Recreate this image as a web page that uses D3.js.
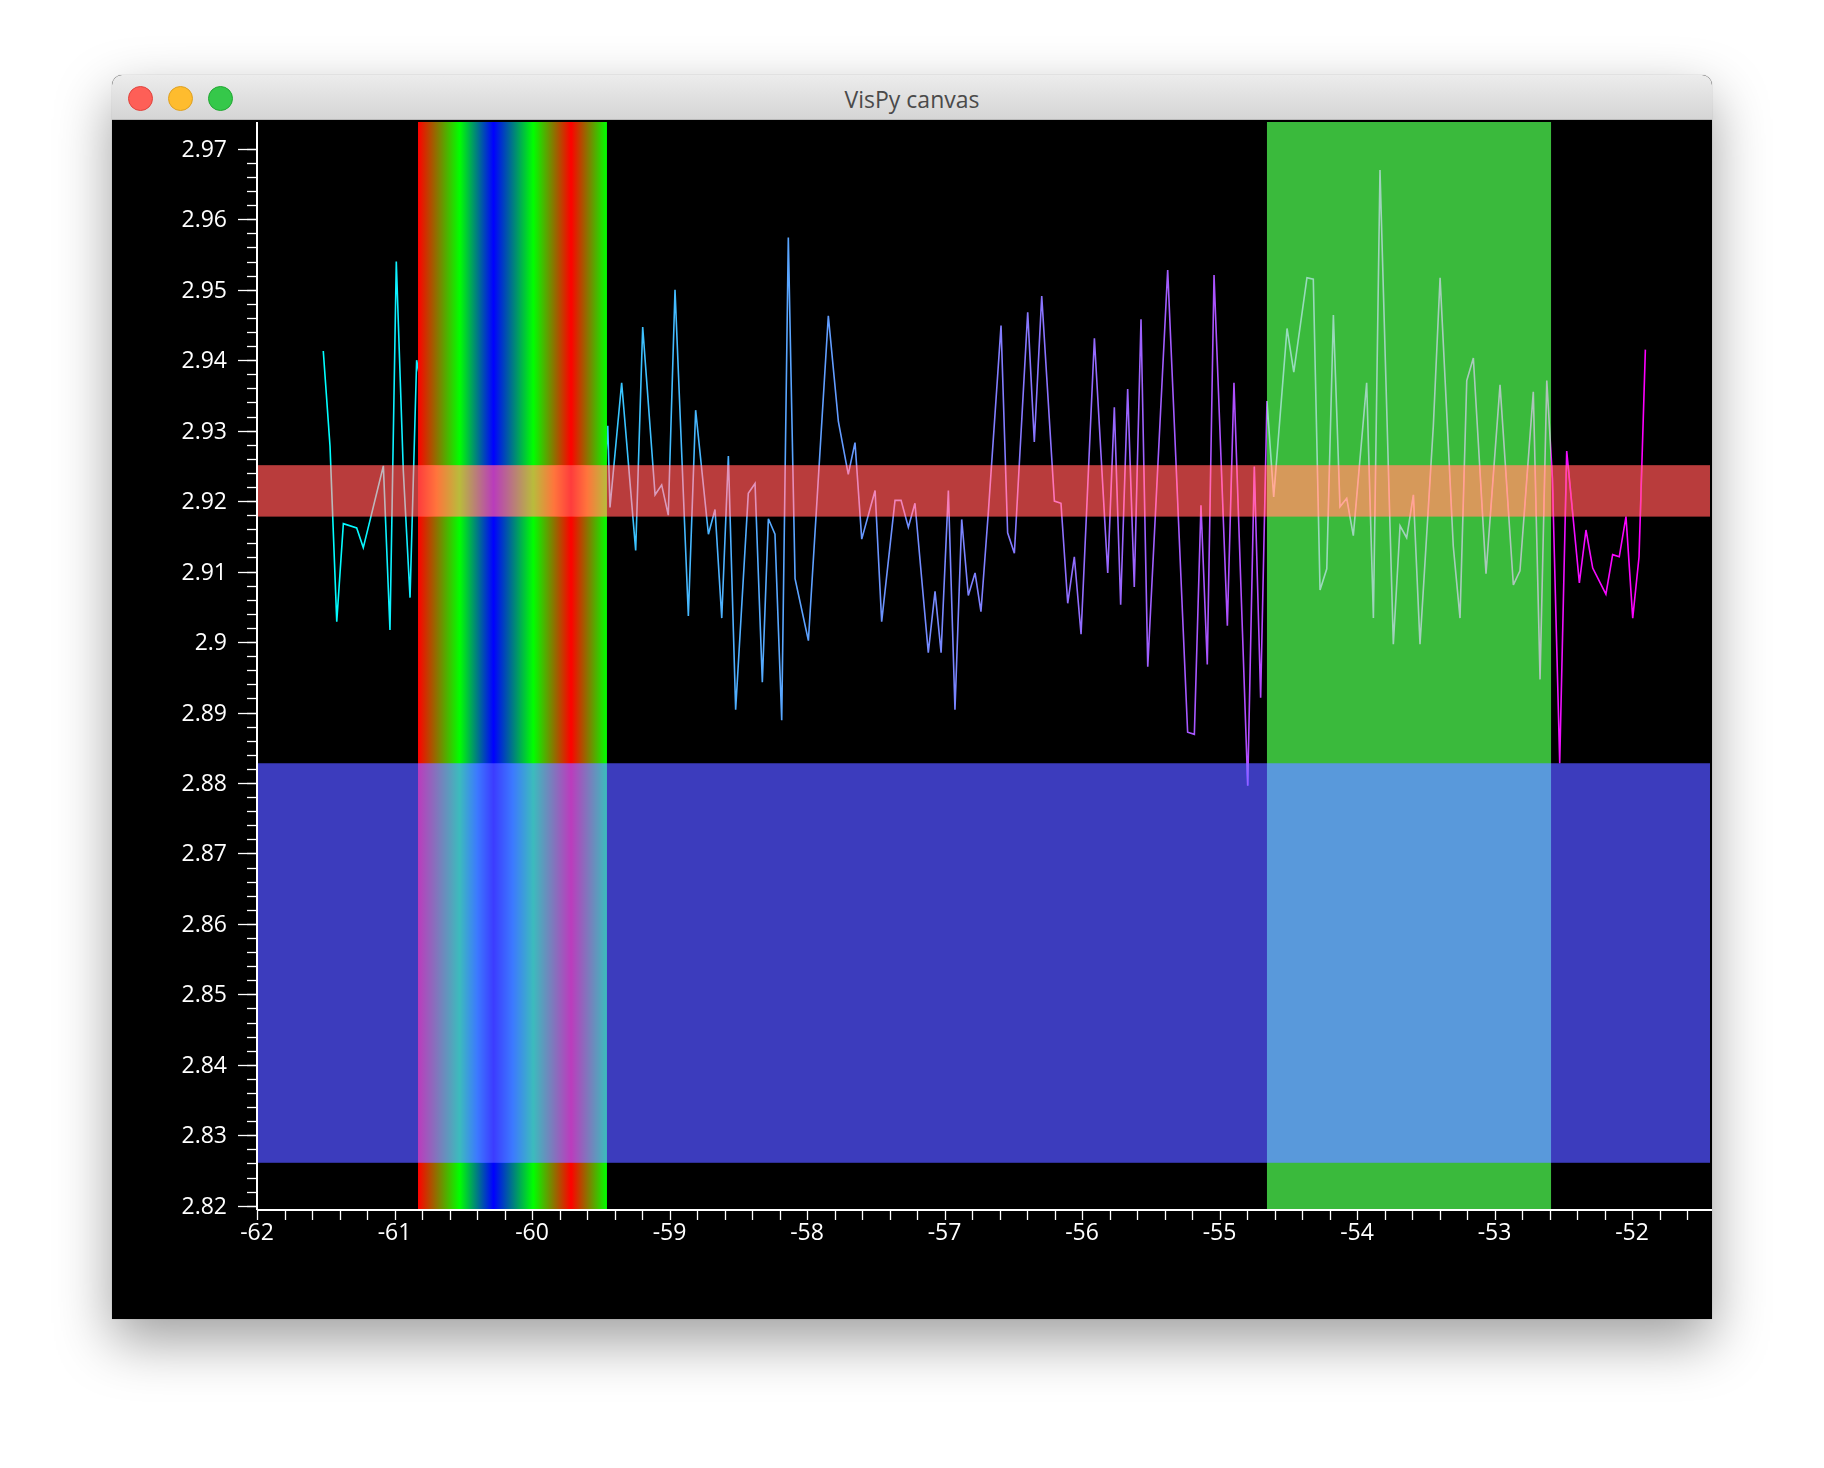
<!DOCTYPE html>
<html>
<head>
<meta charset="utf-8">
<script src="https://cdn.jsdelivr.net/npm/d3@7"></script>
<style>
  body { margin: 0; background: #fff; width: 1824px; height: 1468px; overflow: hidden; }
  #win { position: absolute; left: 112px; top: 75px; width: 1600px; height: 1244px;
         border-radius: 10px 10px 0 0; overflow: hidden;
         box-shadow: 0 22px 55px rgba(0,0,0,0.38), 0 0 1px rgba(0,0,0,0.4); background: #000; }
  #bar { height: 44px; background: linear-gradient(#ececec, #d5d5d5); border-bottom: 1px solid #b8b8b8;
         position: relative; font-family: "Open Sans", "Noto Sans", sans-serif; }
  #bar .t { position: absolute; width: 100%; text-align: center; top: 8px; font-size: 23px; color: #4a4a4a; }
  .dot { position: absolute; top: 11px; width: 23px; height: 23px; border-radius: 50%; }
  svg text { font-family: "Open Sans", "Noto Sans", sans-serif; fill: #fff; }
</style>
</head>
<body>
<div id="win">
  <div id="bar">
    <div class="dot" style="left:16px;background:#fe5f57;border:1px solid #e0443e"></div>
    <div class="dot" style="left:56px;background:#febc2e;border:1px solid #dea123"></div>
    <div class="dot" style="left:96px;background:#35c84a;border:1px solid #22a834"></div>
    <div class="t">VisPy canvas</div>
  </div>
  <div id="chart"></div>
</div>
<script>
// line samples
var lineX = [-61.518,-61.469,-61.420,-61.372,-61.275,-61.227,-61.081,-61.033,-60.987,-60.936,-60.887,-60.839,
  -60.70,-60.50,-60.30,-60.10,-59.90,-59.70,-59.50,
  -59.449,-59.433,-59.348,-59.246,-59.195,-59.105,-59.057,-59.009,-58.960,-58.863,-58.810,-58.717,-58.669,
  -58.620,-58.572,-58.519,-58.427,-58.378,-58.325,-58.281,-58.233,-58.184,-58.136,-58.087,-57.990,-57.845,
  -57.772,-57.700,-57.651,-57.602,-57.505,-57.457,-57.360,-57.316,-57.263,-57.215,-57.118,-57.069,-57.025,
  -56.972,-56.924,-56.875,-56.827,-56.778,-56.735,-56.681,-56.589,-56.541,-56.492,-56.395,-56.347,-56.293,
  -56.201,-56.153,-56.104,-56.056,-56.007,-55.910,-55.813,-55.765,-55.719,-55.668,-55.620,-55.571,-55.522,
  -55.377,-55.232,-55.183,-55.135,-55.089,-55.040,-54.943,-54.895,-54.795,-54.747,-54.701,-54.655,-54.606,
  -54.509,-54.460,-54.364,-54.318,-54.269,-54.220,-54.172,-54.124,-54.075,-54.027,-53.930,-53.881,-53.833,
  -53.736,-53.687,-53.639,-53.590,-53.542,-53.445,-53.396,-53.300,-53.251,-53.202,-53.154,-53.062,-52.960,
  -52.863,-52.815,-52.718,-52.669,-52.620,-52.579,-52.526,-52.475,-52.383,-52.335,-52.286,-52.190,-52.141,
  -52.093,-52.044,-51.995,-51.949,-51.903];
var lineY = [2.9413,2.9278,2.9029,2.9168,2.9162,2.9134,2.9250,2.9017,2.9540,2.9243,2.9063,2.9400,
  2.925,2.910,2.935,2.905,2.920,2.930,2.915,
  2.9307,2.9191,2.9368,2.9130,2.9447,2.9209,2.9223,2.9180,2.9500,2.9037,2.9329,2.9153,2.9188,
  2.9034,2.9264,2.8904,2.9211,2.9225,2.8943,2.9175,2.9153,2.8889,2.9574,2.9090,2.9002,2.9463,
  2.9313,2.9238,2.9283,2.9146,2.9215,2.9029,2.9201,2.9201,2.9163,2.9197,2.8985,2.9072,2.8985,
  2.9215,2.8904,2.9174,2.9066,2.9098,2.9043,2.9185,2.9449,2.9155,2.9126,2.9468,2.9284,2.9491,
  2.9200,2.9197,2.9055,2.9121,2.9011,2.9431,2.9098,2.9333,2.9053,2.9359,2.9078,2.9458,2.8965,
  2.9528,2.8872,2.8869,2.9194,2.8968,2.9521,2.9023,2.9368,2.8796,2.9249,2.8921,2.9342,2.9206,
  2.9445,2.9383,2.9517,2.9515,2.9074,2.9104,2.9464,2.9192,2.9204,2.9151,2.9368,2.9034,2.9670,
  2.8997,2.9165,2.9148,2.9209,2.8997,2.9307,2.9517,2.9136,2.9034,2.9371,2.9403,2.9097,2.9365,
  2.9081,2.9101,2.9355,2.8947,2.9371,2.9232,2.8828,2.9271,2.9084,2.9159,2.9105,2.9068,2.9124,
  2.9121,2.9178,2.9034,2.9121,2.9415];

// regions
var rainbowX = [-60.829, -59.455];
var rainbowStops = [0, 0.22, 0.40, 0.61, 0.81, 1.0];
var rainbowColors = ["#ff0000", "#00ff00", "#0000ff", "#00ff00", "#ff0000", "#00ff00"];
var greenX = [-54.655, -52.589];
var redY = [2.9178, 2.9251];
var blueY = [2.8261, 2.8828];

var xMajor = [-62,-61,-60,-59,-58,-57,-56,-55,-54,-53,-52];
var yMajor = [2.82,2.83,2.84,2.85,2.86,2.87,2.88,2.89,2.90,2.91,2.92,2.93,2.94,2.95,2.96,2.97];
var yLabels = ["2.82","2.83","2.84","2.85","2.86","2.87","2.88","2.89","2.9","2.91","2.92","2.93","2.94","2.95","2.96","2.97"];

var W = 1600, H = 1199;
var L = 145, R = 1598, T = 2, B = 1090;
var x = d3.scaleLinear().domain([-62, -51.433]).range([L, R]);
var y = d3.scaleLinear().domain([2.8194, 2.9738]).range([B, T]);

var svg = d3.select("#chart").append("svg").attr("width", W).attr("height", H)
  .style("display", "block").style("background", "#000");
var defs = svg.append("defs");
defs.append("clipPath").attr("id", "plotclip").append("rect")
  .attr("x", L + 1).attr("y", T).attr("width", R - L - 1).attr("height", B - T);

var rg = defs.append("linearGradient").attr("id", "rainbow")
  .attr("gradientUnits", "userSpaceOnUse")
  .attr("x1", x(rainbowX[0])).attr("x2", x(rainbowX[1])).attr("y1", 0).attr("y2", 0);
rainbowStops.forEach(function(s, i) {
  rg.append("stop").attr("offset", s).attr("stop-color", rainbowColors[i]);
});
var lg = defs.append("linearGradient").attr("id", "linegrad")
  .attr("gradientUnits", "userSpaceOnUse")
  .attr("x1", x(lineX[0])).attr("x2", x(lineX[lineX.length - 1])).attr("y1", 0).attr("y2", 0);
lg.append("stop").attr("offset", 0).attr("stop-color", "#00ffff");
lg.append("stop").attr("offset", 1).attr("stop-color", "#ff00ff");

var plot = svg.append("g").attr("clip-path", "url(#plotclip)").style("isolation", "isolate");

var pts = lineX.map(function(d, i) { return [d, lineY[i]]; });
plot.append("path").datum(pts)
  .attr("d", d3.line().x(function(d) { return x(d[0]); }).y(function(d) { return y(d[1]); }))
  .attr("fill", "none").attr("stroke", "url(#linegrad)").attr("stroke-width", 1.6);

plot.append("rect").attr("x", x(rainbowX[0])).attr("width", x(rainbowX[1]) - x(rainbowX[0]))
  .attr("y", T).attr("height", B - T).attr("fill", "url(#rainbow)");

// translucent band: halve what is beneath, then add the colour
function band(x0, y0, w, h, col) {
  plot.append("rect").attr("x", x0).attr("y", y0).attr("width", w).attr("height", h)
    .attr("fill", "#000").attr("opacity", 0.5);
  plot.append("rect").attr("x", x0).attr("y", y0).attr("width", w).attr("height", h)
    .attr("fill", col).style("mix-blend-mode", "plus-lighter");
}
band(x(greenX[0]), T, x(greenX[1]) - x(greenX[0]), B - T, "#3aba3c");
band(L, y(redY[1]), R - L, y(redY[0]) - y(redY[1]), "#b93c3c");
band(L, y(blueY[1]), R - L, y(blueY[0]) - y(blueY[1]), "#3c3cbd");

// axes
var yMinor = d3.range(0, 76).map(function(i) { return 2.82 + i * 0.002; });
var xMinor = d3.range(0, 53).map(function(i) { return -62 + i * 0.2; });

var ax = svg.append("g").attr("stroke", "#fff");
ax.append("line").attr("x1", L).attr("x2", L).attr("y1", T).attr("y2", B).attr("stroke-width", 2);
ax.append("line").attr("x1", L).attr("x2", R + 2).attr("y1", B).attr("y2", B).attr("stroke-width", 2);
ax.selectAll(".ym").data(yMinor).join("line")
  .attr("x1", L - 10).attr("x2", L).attr("y1", function(d) { return Math.round(y(d)) + 0.5; })
  .attr("y2", function(d) { return Math.round(y(d)) + 0.5; }).attr("stroke-width", 1.3);
ax.selectAll(".yM").data(yMajor).join("line")
  .attr("x1", L - 19).attr("x2", L).attr("y1", function(d) { return Math.round(y(d)) + 0.5; })
  .attr("y2", function(d) { return Math.round(y(d)) + 0.5; }).attr("stroke-width", 1.3);
ax.selectAll(".xm").data(xMinor).join("line")
  .attr("y1", B).attr("y2", B + 10).attr("x1", function(d) { return Math.round(x(d)) + 0.5; })
  .attr("x2", function(d) { return Math.round(x(d)) + 0.5; }).attr("stroke-width", 1.3);

svg.selectAll(".yl").data(yMajor).join("text")
  .attr("x", L - 30).attr("y", function(d) { return y(d) + 8; })
  .attr("text-anchor", "end").attr("font-size", 23)
  .text(function(d, i) { return yLabels[i]; });
svg.selectAll(".xl").data(xMajor).join("text")
  .attr("x", function(d) { return x(d); }).attr("y", B + 30)
  .attr("text-anchor", "middle").attr("font-size", 23)
  .text(function(d) { return d; });
</script>
</body>
</html>
